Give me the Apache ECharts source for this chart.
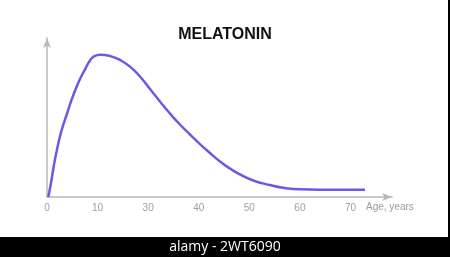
<!DOCTYPE html>
<html>
<head>
<meta charset="utf-8">
<script src="https://cdn.jsdelivr.net/npm/echarts@6/dist/echarts.min.js"></script>
<style>html,body{margin:0;padding:0;background:#fff}#c{width:450px;height:257px}</style>
</head>
<body>
<div id="c"></div>
<script>
// Tick labels as printed on the reference (note: 20 is skipped in the original)
var xTickLabels = ['0', '10', '30', '40', '50', '60', '70'];
// x position in tick-index units, y in relative melatonin level (0..100)
var xPos = [0.026, 0.085, 0.138, 0.204, 0.283, 0.389, 0.5, 0.632, 0.765, 0.85, 0.929, 1.061, 1.259, 1.443, 1.64, 1.838, 2.036, 2.233, 2.431, 2.628, 2.826, 3.024, 3.221, 3.419, 3.617, 3.814, 4.077, 4.407, 4.67, 5.0, 5.395, 6.285];
var melatonin = [0, 9.9, 20.3, 30.8, 41.3, 51.8, 62.3, 72.8, 81.1, 85.8, 88.5, 89.5, 88.5, 86.2, 82.0, 75.8, 67.9, 60.1, 52.5, 45.6, 39.3, 33.3, 27.7, 22.3, 17.9, 14.2, 10.4, 7.5, 5.8, 4.8, 4.6, 4.6];
var titleText = 'MELATONIN';
var axisName = 'Age, years';
var watermark = 'alamy - 2WT6090';

var data = xPos.map(function (x, i) { return [x, melatonin[i]]; });
var chart = echarts.init(document.getElementById('c'), null, {renderer: 'canvas'});
chart.setOption({
  animation: false,
  backgroundColor: '#fff',
  title: {
    text: titleText, left: 'center', top: 22,
    textStyle: {fontFamily: 'Liberation Sans, Arial', fontWeight: 'bold', fontSize: 16, color: '#111'}
  },
  grid: {left: 47, right: 58, top: 38, bottom: 60, containLabel: false},
  xAxis: {
    type: 'value', min: 0, max: 6.82, interval: 1,
    name: axisName, nameLocation: 'end', nameGap: -26,
    nameTextStyle: {color: '#9a9a9a', fontSize: 10, fontFamily: 'Liberation Sans, Arial', align: 'left', verticalAlign: 'top', padding: [5, 0, 0, 0]},
    axisLine: {show: true, symbol: ['none', 'arrow'], symbolSize: [6, 10], lineStyle: {color: '#b8b8b8', width: 1.5}},
    axisTick: {show: false},
    splitLine: {show: false},
    axisLabel: {
      margin: 6, color: '#a0a0a0', fontSize: 10, fontFamily: 'Liberation Sans, Arial',
      showMaxLabel: false,
      formatter: function (v) { var i = Math.round(v); return (Math.abs(v - i) < 1e-6 && xTickLabels[i] !== undefined) ? xTickLabels[i] : ''; }
    }
  },
  yAxis: {
    type: 'value', min: 0, max: 100,
    axisLine: {show: true, symbol: ['none', 'arrow'], symbolSize: [6, 10], lineStyle: {color: '#b8b8b8', width: 1.5}},
    axisTick: {show: false}, axisLabel: {show: false}, splitLine: {show: false}
  },
  series: [{
    type: 'line', data: data, smooth: 0.5, symbol: 'none',
    lineStyle: {color: '#6a5ae3', width: 2.5}
  }],
  graphic: [
    {type: 'rect', shape: {x: 0, y: 237, width: 450, height: 20}, style: {fill: '#000'}},
    {type: 'rect', shape: {x: 448, y: 0, width: 2, height: 237}, style: {fill: '#000'}},
    {type: 'text', x: 225, y: 247, style: {text: watermark, fill: '#fff', font: '14px "Open Sans", sans-serif', align: 'center', verticalAlign: 'middle'}}
  ]
});
</script>
</body>
</html>
